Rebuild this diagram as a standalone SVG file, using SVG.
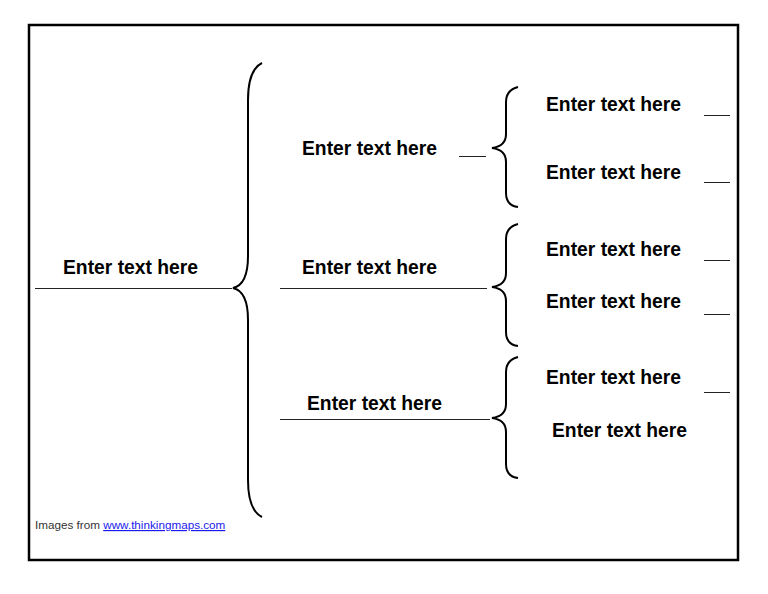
<svg xmlns="http://www.w3.org/2000/svg" width="768" height="594" viewBox="0 0 768 594">
<style>
.lbl{font-family:"Liberation Sans",Arial,sans-serif;font-weight:bold;font-size:19.3px;fill:#000}
.br{fill:none;stroke:#000;stroke-width:2}
.ln{fill:none;stroke:#222;stroke-width:1}
.foot{font-family:"Liberation Sans",Arial,sans-serif;font-size:11.7px}
</style>
<rect x="0" y="0" width="768" height="594" fill="#fff"/>
<rect x="29" y="25" width="709" height="535" fill="#fff" stroke="#000" stroke-width="2.5"/>
<g id="connectors">
<line class="ln" x1="35" y1="288.5" x2="232" y2="288.5"/>
<path class="br" d="M262,63 C252,68 248,80 248,100 L248,256 C248,276 242,286 233,288 C242,290 248,300 248,320 L248,480 C248,500 252,512 262,517"/>
<line class="ln" x1="459" y1="156.5" x2="486" y2="156.5"/>
<path class="br" d="M518,87 C510,89 506,94 506,102 L506,134 C506,143 500,147 492,148 C500,149 506,153 506,162 L506,193 C506,202 510,206 518,207"/>
<line class="ln" x1="280" y1="288.5" x2="487" y2="288.5"/>
<path class="br" d="M518,224 C510,226 506,231 506,239 L506,273 C506,282 500,286 492,287 C500,288 506,292 506,301 L506,332 C506,341 510,345 518,346"/>
<line class="ln" x1="280" y1="419.5" x2="490" y2="419.5"/>
<path class="br" d="M518,357 C510,359 506,364 506,372 L506,404 C506,413 500,417 492,418 C500,419 506,423 506,432 L506,464 C506,473 510,477 518,478"/>
<line class="ln" x1="704" y1="115.5" x2="730" y2="115.5"/>
<line class="ln" x1="704" y1="182.5" x2="730" y2="182.5"/>
<line class="ln" x1="704" y1="260.5" x2="730" y2="260.5"/>
<line class="ln" x1="704" y1="314.5" x2="730" y2="314.5"/>
<line class="ln" x1="704" y1="392.5" x2="730" y2="392.5"/>
</g>
<g id="root"><text class="lbl" x="63" y="274">Enter text here</text></g>
<g id="mid1"><text class="lbl" x="302" y="155">Enter text here</text></g>
<g id="mid2"><text class="lbl" x="302" y="274">Enter text here</text></g>
<g id="mid3"><text class="lbl" x="307" y="410">Enter text here</text></g>
<g id="leaf1"><text class="lbl" x="546" y="111">Enter text here</text></g>
<g id="leaf2"><text class="lbl" x="546" y="179">Enter text here</text></g>
<g id="leaf3"><text class="lbl" x="546" y="256">Enter text here</text></g>
<g id="leaf4"><text class="lbl" x="546" y="308">Enter text here</text></g>
<g id="leaf5"><text class="lbl" x="546" y="384">Enter text here</text></g>
<g id="leaf6"><text class="lbl" x="552" y="437">Enter text here</text></g>
<g id="footer"><text class="foot" x="35" y="529" fill="#333">Images from <tspan fill="#1a1aee" text-decoration="underline">www.thinkingmaps.com</tspan></text></g>
</svg>
